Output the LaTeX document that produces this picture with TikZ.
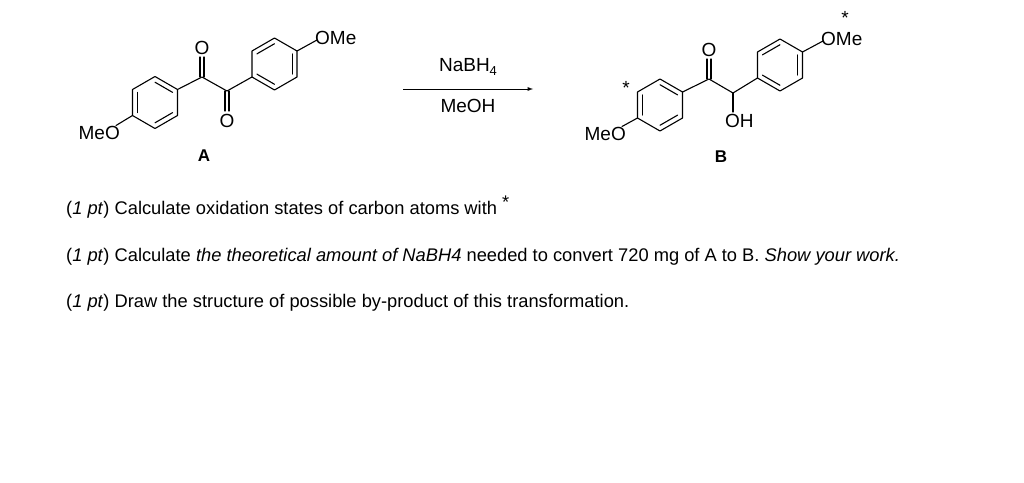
\documentclass[tikz,border=0pt]{standalone}
\usepackage{fontspec}
\setmainfont{Liberation Sans}
\usetikzlibrary{calc}
\newcommand\myring[4]{%
  \coordinate (#1) at (#2,#3);
  \foreach \k/\a in {1/30,2/90,3/150,4/210,5/270,6/330}{\coordinate (#1\k) at ($(#1)+(\a:#4)$);}
  \draw[bond] (#11)--(#12)--(#13)--(#14)--(#15)--(#16)--cycle;}
\newcommand\inner[3]{\draw[bond] ($(#1)!0.78!(#1#2)$)--($(#1)!0.78!(#1#3)$);}
\begin{document}
\begin{tikzpicture}[x=1pt,y=-1pt,
  bond/.style={line width=1.1pt,line cap=round,line join=round},
  atom/.style={inner sep=0pt,font=\fontsize{19}{22}\selectfont},
  txt/.style={inner sep=0pt,anchor=base west,font=\fontsize{18.3}{22}\selectfont}]
\useasboundingbox (0,0) rectangle (1024,482);
% ---- Molecule A
\myring{LA}{155}{102.5}{26}
\inner{LA}{3}{4}\inner{LA}{5}{6}\inner{LA}{1}{2}
\coordinate (mA) at (116,125.5);
\draw[bond] (LA3)--(mA);
\node[atom,anchor=east] (MeOA) at (120,133) {MeO};
\coordinate (C1A) at (202,77);
\coordinate (C2A) at (227,91);
\draw[bond] (LA6)--(C1A)--(C2A);
\coordinate (O1A) at (202,57);
\node[atom] (O1Al) at (202,48) {O};
\draw[bond] ($(C1A)+(-2,0)$)--($(O1A)+(-2,0)$);
\draw[bond] ($(C1A)+(2,0)$)--($(O1A)+(2,0)$);
\coordinate (O2A) at (227,111);
\node[atom] (O2Al) at (227,121) {O};
\draw[bond] ($(C2A)+(-2,0)$)--($(O2A)+(-2,0)$);
\draw[bond] ($(C2A)+(2,0)$)--($(O2A)+(2,0)$);
\myring{RA}{274.5}{64}{26}
\inner{RA}{4}{5}\inner{RA}{6}{1}\inner{RA}{2}{3}
\draw[bond] (C2A)--(RA3);
\coordinate (mA2) at (317,40);
\draw[bond] (RA6)--(mA2);
\node[atom,anchor=west] (OMeA) at (315,38) {OMe};
\node[atom,font=\bfseries\fontsize{17}{20}\selectfont] (labA) at (204,156) {A};
% ---- Arrow
\coordinate (ar1) at (403,89);
\coordinate (ar2) at (533,89);
\draw[line width=0.9pt,-latex] (ar1)--(ar2);
\node[atom] (re) at (468,67) {NaBH\raisebox{-4pt}{\fontsize{13}{14}\selectfont 4}};
\node[atom] (so) at (468,106) {MeOH};
% ---- Molecule B
\myring{LB}{660}{105}{26}
\inner{LB}{3}{4}\inner{LB}{5}{6}\inner{LB}{1}{2}
\coordinate (mB) at (622,126.5);
\draw[bond] (LB3)--(mB);
\node[atom,anchor=east] (MeOB) at (626,134) {MeO};
\node[atom] (stB1) at (626,88) {*};
\coordinate (C1B) at (709,79);
\coordinate (C2B) at (733,93);
\draw[bond] (LB6)--(C1B)--(C2B);
\coordinate (O1B) at (709,59);
\node[atom] (O1Bl) at (709,50) {O};
\draw[bond] ($(C1B)+(-2,0)$)--($(O1B)+(-2,0)$);
\draw[bond] ($(C1B)+(2,0)$)--($(O1B)+(2,0)$);
\coordinate (OHB) at (733,112);
\draw[bond] (C2B)--(OHB);
\node[atom,anchor=west] (OHl) at (725,121) {OH};
\myring{RB}{780}{65}{26}
\inner{RB}{4}{5}\inner{RB}{6}{1}\inner{RB}{2}{3}
\draw[bond] (C2B)--(RB3);
\coordinate (mB2) at (823,41);
\draw[bond] (RB6)--(mB2);
\node[atom,anchor=west] (OMeB) at (821,39) {OMe};
\node[atom] (stB2) at (845,18) {*};
\node[atom,font=\bfseries\fontsize{17}{20}\selectfont] (labB) at (721,157) {B};
% ---- Questions
\node[txt] (q1) at (66,214) {(\textit{1 pt}) Calculate oxidation states of carbon atoms with \raisebox{6pt}{*}};
\node[txt] (q2) at (66,261) {(\textit{1 pt}) Calculate \textit{the theoretical amount of NaBH4} needed to convert 720 mg of A to B. \textit{Show your work.}};
\node[txt] (q3) at (66,307) {(\textit{1 pt}) Draw the structure of possible by-product of this transformation.};
\end{tikzpicture}
\end{document}
